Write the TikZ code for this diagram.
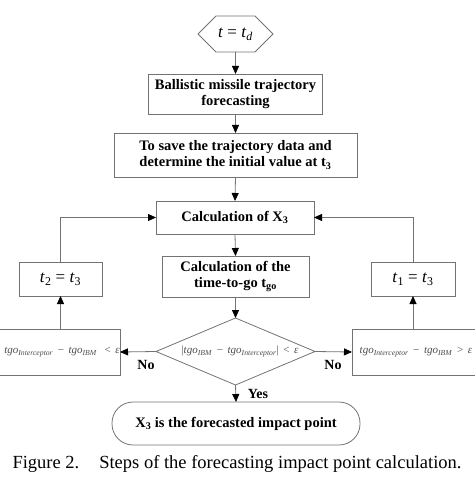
\documentclass[tikz,border=0pt]{standalone}
\usepackage{fontspec}
\setmainfont{Liberation Serif}
\usetikzlibrary{arrows.meta,shapes.geometric}
\newcommand{\vr}[1]{\textit{#1}}
\newcommand{\sbs}[1]{\textsubscript{\textit{#1}}}
\begin{document}
\begin{tikzpicture}[x=1pt,y=-1pt,
  line width=0.8pt,
  every node/.style={inner sep=0pt, outer sep=0pt},
  boxed/.style={draw=black!55, rectangle, align=center,
    font=\fontsize{14.5}{16}\selectfont\bfseries},
  condbox/.style={draw=black!55, rectangle},
  conn/.style={draw=black!55, -{Triangle[length=8pt,width=7pt,color=black]}},
  lbl/.style={font=\fontsize{14}{16}\selectfont\bfseries},
  mathlbl/.style={font=\fontsize{17}{19}\selectfont},
  condtxt/.style={font=\fontsize{11}{12}\selectfont, text=black!70}
]
\useasboundingbox (0,0) rectangle (474,478);
% start hexagon
\node[minimum width=75pt, minimum height=36pt, mathlbl] (h) at (235.5,34) {\vr{t} = \vr{t}\sbs{d}};
\draw[draw=black!55] (h.west) -- ([xshift=18pt]h.north west) -- ([xshift=-18pt]h.north east)
  -- (h.east) -- ([xshift=-18pt]h.south east) -- ([xshift=18pt]h.south west) -- cycle;
% boxes
\node[boxed, minimum width=174pt, minimum height=40pt] (b1) at (235.5,94)
  {Ballistic missile trajectory\\forecasting};
\node[boxed, minimum width=243pt, minimum height=44pt] (b2) at (235.5,155)
  {To save the trajectory data and\\determine the initial value at t\textsubscript{3}};
\node[boxed, minimum width=158pt, minimum height=33pt] (b3) at (235,217.5)
  {Calculation of X\textsubscript{3}};
\node[boxed, minimum width=147pt, minimum height=41pt] (b4) at (235.5,276.5)
  {Calculation of the\\time-to-go t\textsubscript{go}};
\node[condbox, minimum width=83pt, minimum height=34pt, mathlbl] (lt) at (60.5,279)
  {\vr{t}\textsubscript{2} = \vr{t}\textsubscript{3}};
\node[condbox, minimum width=84pt, minimum height=34pt, mathlbl] (rt) at (413,279)
  {\vr{t}\textsubscript{1} = \vr{t}\textsubscript{3}};
% diamond
\node[draw=black!55, diamond, minimum width=159pt, minimum height=67pt] (d) at (235.5,351.5) {};
\node[condtxt] (dt) at (240,351.5)
  {\textbar\vr{tgo}\sbs{IBM} \,−\, \vr{tgo}\sbs{Interceptor}\textbar\ \,<\, \vr{ε}};
% condition boxes
\node[condbox, minimum width=125pt, minimum height=46pt] (lc) at (57.5,352) {};
\node[condtxt] (lct) at (62,352)
  {\vr{tgo}\sbs{Interceptor} \,−\, \vr{tgo}\sbs{IBM} \ \,<\, \vr{ε}};
\node[condbox, minimum width=128pt, minimum height=46pt] (rc) at (416,352) {};
\node[condtxt] (rct) at (416,352)
  {\vr{tgo}\sbs{Interceptor} \,−\, \vr{tgo}\sbs{IBM} \,>\, \vr{ε}};
% terminal
\node[draw=black!55, rectangle, rounded corners=21pt, minimum width=248pt, minimum height=43pt,
  font=\fontsize{14.5}{16}\selectfont\bfseries] (term) at (236,423.5)
  {X\textsubscript{3} is the forecasted impact point};
% connectors
\draw[conn] (h.south) -- (b1.north);
\draw[conn] (b1.south) -- (b2.north);
\draw[conn] (b2.south) -- (b3.north);
\draw[conn] (b3.south) -- (b4.north);
\draw[conn] (b4.south) -- (d.north);
\draw[conn] (d.south) -- (term.north);
\draw[conn] (d.west) -- (lc.east);
\draw[conn] (d.east) -- (rc.west);
\draw[conn] (lt.south |- lc.north) -- (lt.south);
\draw[conn] (rt.south |- rc.north) -- (rt.south);
\draw[conn] (lt.north) |- (b3.west);
\draw[conn] (rt.north) |- (b3.east);
% labels
\node[lbl] (no1) at (146,365) {No};
\node[lbl] (no2) at (333,365) {No};
\node[lbl] (yes) at (258,394) {Yes};
% caption
\node[anchor=base, font=\fontsize{18.5}{21}\selectfont] (cap) at (237,468)
  {Figure 2.\hspace{20pt}Steps of the forecasting impact point calculation.};
\end{tikzpicture}
\end{document}
